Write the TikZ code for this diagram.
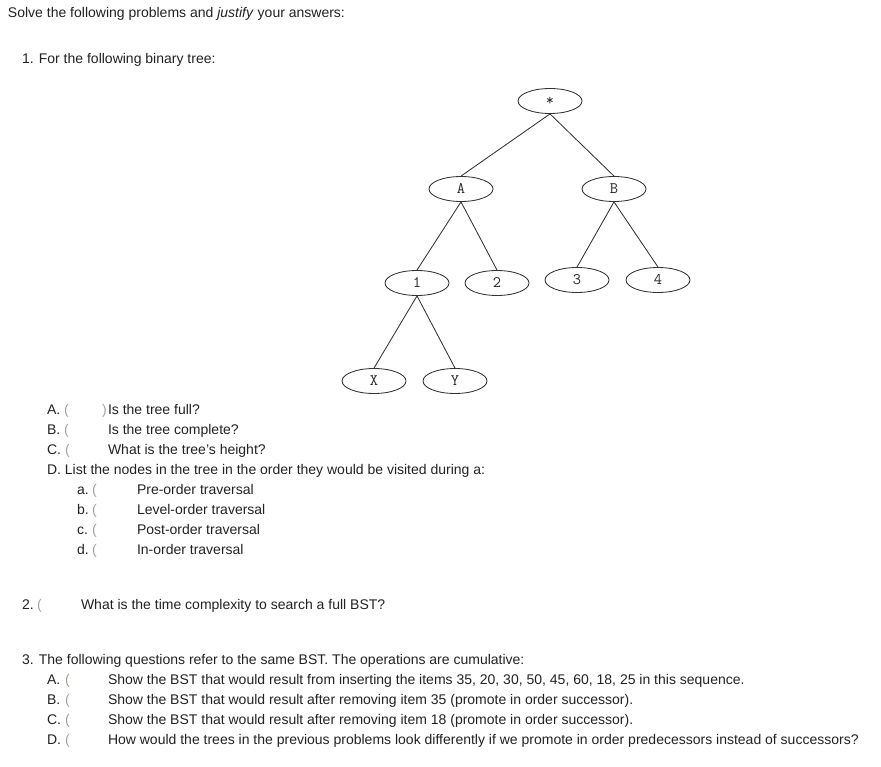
\documentclass[tikz,border=0pt]{standalone}
\usepackage{fontspec}
\setmainfont{Liberation Sans}
\definecolor{ink}{HTML}{222222}
\definecolor{pale}{HTML}{A8A09A}
\tikzset{
  txt/.style={anchor=base west,inner sep=0pt,outer sep=0pt,text=ink,font=\fontsize{14}{16}\selectfont},
  frag/.style={anchor=base west,inner sep=0pt,outer sep=0pt,text=pale,font=\fontsize{14}{16}\selectfont},
  tn/.style={draw=black!80,line width=0.85pt,ellipse,minimum width=64pt,minimum height=25pt,inner sep=0pt,text=black!85,font=\ttfamily\fontsize{16}{18}\selectfont},
  edge/.style={draw=black!80,line width=0.85pt}
}
\usetikzlibrary{shapes.geometric}
\begin{document}
\begin{tikzpicture}[x=1pt,y=-1pt]
\useasboundingbox (0,0) rectangle (881,767);
% tree
\node[tn] (root) at (550,101) {*};
\node[tn] (A) at (461,189) {A};
\node[tn] (B) at (614,189) {B};
\node[tn] (n1) at (417,283) {1};
\node[tn] (n2) at (497,283) {2};
\node[tn] (n3) at (577,280) {3};
\node[tn] (n4) at (658,280) {4};
\node[tn] (X) at (374,381) {X};
\node[tn] (Y) at (455,381) {Y};
\draw[edge] (root.south) -- (A.north);
\draw[edge] (root.south) -- (B.north);
\draw[edge] (A.south) -- (n1.north);
\draw[edge] (A.south) -- (n2.north);
\draw[edge] (B.south) -- (n3.north);
\draw[edge] (B.south) -- (n4.north);
\draw[edge] (n1.south) -- (X.north);
\draw[edge] (n1.south) -- (Y.north);
% text
\node[txt] (t0) at (8,18) {Solve the following problems and \emph{justify} your answers:};
\node[txt] (t1) at (22,63.5) {1. For the following binary tree:};
\node[txt] (qAl) at (47,414) {A.};
\node[frag] (qAp) at (64,414) {(};
\node[frag] (qAc) at (102,414) {)};
\node[txt] (qA) at (108,414) {Is the tree full?};
\node[txt] (qBl) at (47,434) {B.};
\node[frag] (qBp) at (64,434) {(};
\node[txt] (qB) at (108,434) {Is the tree complete?};
\node[txt] (qCl) at (47,454) {C.};
\node[frag] (qCp) at (65,454) {(};
\node[txt] (qC) at (108,454) {What is the tree's height?};
\node[txt] (qD) at (47,474) {D. List the nodes in the tree in the order they would be visited during a:};
\node[txt] (al) at (77,494) {a.};
\node[frag] (ap) at (92,494) {(};
\node[txt] (a) at (137,494) {Pre-order traversal};
\node[txt] (bl) at (77,514) {b.};
\node[frag] (bp) at (92,514) {(};
\node[txt] (b) at (137,514) {Level-order traversal};
\node[txt] (cl) at (77,534) {c.};
\node[frag] (cp) at (92,534) {(};
\node[txt] (c) at (137,534) {Post-order traversal};
\node[txt] (dl) at (77,554) {d.};
\node[frag] (dp) at (92,554) {(};
\node[txt] (d) at (137,554) {In-order traversal};
\node[txt] (q2l) at (22,609) {2.};
\node[frag] (q2p) at (37,609) {(};
\node[txt] (q2) at (81,609) {What is the time complexity to search a full BST?};
\node[txt] (q3) at (22,664) {3. The following questions refer to the same BST. The operations are cumulative:};
\node[txt] (r1l) at (47,684) {A.};
\node[frag] (r1p) at (65,684) {(};
\node[txt] (r1) at (108,684) {Show the BST that would result from inserting the items 35, 20, 30, 50, 45, 60, 18, 25 in this sequence.};
\node[txt] (r2l) at (47,704) {B.};
\node[frag] (r2p) at (65,704) {(};
\node[txt] (r2) at (108,704) {Show the BST that would result after removing item 35 (promote in order successor).};
\node[txt] (r3l) at (47,724) {C.};
\node[frag] (r3p) at (65,724) {(};
\node[txt] (r3) at (108,724) {Show the BST that would result after removing item 18 (promote in order successor).};
\node[txt] (r4l) at (47,744) {D.};
\node[frag] (r4p) at (65,744) {(};
\node[txt] (r4) at (108,744) {How would the trees in the previous problems look differently if we promote in order predecessors instead of successors?};
\end{tikzpicture}
\end{document}
